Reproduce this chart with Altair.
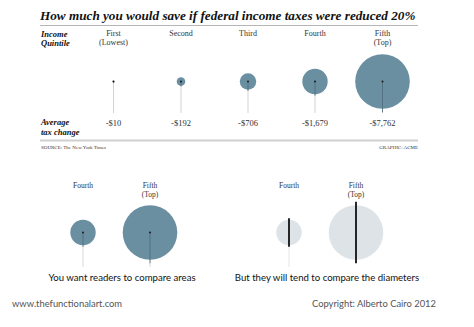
import math
import altair as alt
import pandas as pd

# ---------------- data ----------------
quintiles = ["First", "Second", "Third", "Fourth", "Fifth"]
sublabels = ["(Lowest)", "", "", "", "(Top)"]
savings = [10, 192, 706, 1679, 7762]
value_labels = ["-$10", "-$192", "-$706", "-$1,679", "-$7,762"]

title = "How much you would save if federal income taxes were reduced 20%"
row_label_top = ["Income", "Quintile"]
row_label_bottom = ["Average", "tax change"]
source_text = "SOURCE: The New York Times"
credit_text = "GRAPHIC: ACME"
caption_left = "You want readers to compare areas"
caption_right = "But they will tend to compare the diameters"
footer_left = "www.thefunctionalart.com"
footer_right = "Copyright: Alberto Cairo 2012"

# ---------------- layout (pixel positions) ----------------
W, H = 474, 327
col_x = [113.5, 181, 248, 315, 382.5]
cy_top = 81.5
cy_bot = 232.5
bl_x = [83, 150]      # bottom-left Fourth, Fifth
br_x = [289, 356]     # bottom-right Fourth, Fifth
RMAX = 30.8
SMAX = math.pi * RMAX ** 2

BLUE = "#6a8fa1"
LIGHT = "#dde3e6"
SERIF = "Liberation Serif"
SANS = "Lato"

X = alt.X("x:Q", scale=alt.Scale(domain=[0, W], range=[0, W]), axis=None)
Y = alt.Y("y:Q", scale=alt.Scale(domain=[0, H], range=[0, H]), axis=None)
SIZE = alt.Size("v:Q", scale=alt.Scale(domain=[0, max(savings)], range=[0, SMAX]), legend=None)


def radius(v):
    return RMAX * math.sqrt(v / max(savings))


def text_layer(rows, font, size, color="#222", style="normal", weight="normal", align="center"):
    df = pd.DataFrame(rows, columns=["x", "y", "t"])
    return alt.Chart(df).mark_text(
        font=font, fontSize=size, color=color, fontStyle=style, fontWeight=weight,
        align=align, baseline="middle"
    ).encode(x=X, y=Y, text="t:N")


def hrule(x1, x2, y, color, sw):
    df = pd.DataFrame({"x": [x1], "x2": [x2], "y": [y]})
    return alt.Chart(df).mark_rule(color=color, strokeWidth=sw).encode(x=X, x2="x2:Q", y=Y)


def vrules(xs, y1s, y2s, color, sw, opacity=1.0):
    df = pd.DataFrame({"x": xs, "y": y1s, "y2": y2s})
    return alt.Chart(df).mark_rule(color=color, strokeWidth=sw, opacity=opacity).encode(x=X, y=Y, y2="y2:Q")


def circles(xs, ys, vs, color):
    df = pd.DataFrame({"x": xs, "y": ys, "v": vs})
    return alt.Chart(df).mark_circle(color=color, opacity=1).encode(x=X, y=Y, size=SIZE)


def dots(xs, ys):
    df = pd.DataFrame({"x": xs, "y": ys})
    return alt.Chart(df).mark_circle(color="#1a1a1a", opacity=1, size=4).encode(x=X, y=Y)


layers = []
# title
layers.append(text_layer([(40, 15.5, title)], SERIF, 13.2, "#111", "italic", "bold", "left"))
layers.append(hrule(40, 418, 25.5, "#b5b5b5", 1))
# row labels
layers.append(text_layer([(41, 33.5, row_label_top[0]), (41, 43, row_label_top[1])],
                         SERIF, 8.5, "#111", "italic", "bold", "left"))
layers.append(text_layer([(41, 122, row_label_bottom[0]), (41, 131.5, row_label_bottom[1])],
                         SERIF, 8.5, "#111", "italic", "bold", "left"))
# column headers
hdr = [(col_x[i], 33.5, q) for i, q in enumerate(quintiles)]
hdr += [(col_x[i], 42.5, s) for i, s in enumerate(sublabels) if s]
layers.append(text_layer(hdr, SERIF, 8, "#333"))
# top bubbles
layers.append(vrules(col_x, [cy_top] * 5, [113] * 5, "#d2d2d2", 1))
layers.append(circles(col_x, [cy_top] * 5, savings, BLUE))
layers.append(vrules(col_x, [cy_top] * 5, [cy_top + radius(v) for v in savings], "#4d6a78", 0.8))
layers.append(dots(col_x, [cy_top] * 5))
# value labels
layers.append(text_layer([(col_x[i], 123, l) for i, l in enumerate(value_labels)], SERIF, 8.5, "#333"))
# bottom bar + source
layers.append(hrule(40, 418, 140.5, "#cfcfcf", 2))
layers.append(text_layer([(41, 147, source_text)], SERIF, 5, "#333", align="left"))
layers.append(text_layer([(418, 147, credit_text)], SERIF, 5, "#333", align="right"))

# lower panels
pair_v = savings[3:]
for xs in (bl_x, br_x):
    layers.append(text_layer([(xs[0], 186, quintiles[3]), (xs[1], 186, quintiles[4]),
                              (xs[1], 195, sublabels[4])], SERIF, 7.5, "#333"))
# left: areas
layers.append(vrules(bl_x, [cy_bot] * 2, [267] * 2, "#dadada", 1))
layers.append(circles(bl_x, [cy_bot] * 2, pair_v, BLUE))
layers.append(vrules(bl_x, [cy_bot] * 2, [cy_bot + radius(v) for v in pair_v], "#4d6a78", 0.8))
layers.append(dots(bl_x, [cy_bot] * 2))
# right: diameters
layers.append(vrules(br_x[:1], [cy_bot], [267], "#e6e6e6", 1))
layers.append(circles(br_x, [cy_bot] * 2, pair_v, LIGHT))
layers.append(vrules(br_x, [cy_bot - radius(v) for v in pair_v],
                     [cy_bot + radius(v) for v in pair_v], "#111", 1.8))
# captions
layers.append(text_layer([(122, 278, caption_left), (327, 278, caption_right)], SANS, 9.6, "#111"))
# footer
layers.append(text_layer([(12, 304, footer_left)], SANS, 9.4, "#555", align="left"))
layers.append(text_layer([(436, 304, footer_right)], SANS, 9.4, "#555", align="right"))

chart = alt.layer(*layers).properties(
    width=W, height=H, padding=0, autosize="none", background="white"
).configure_view(stroke=None)

chart.save("out.html", embed_options={"renderer": "svg", "actions": False})
